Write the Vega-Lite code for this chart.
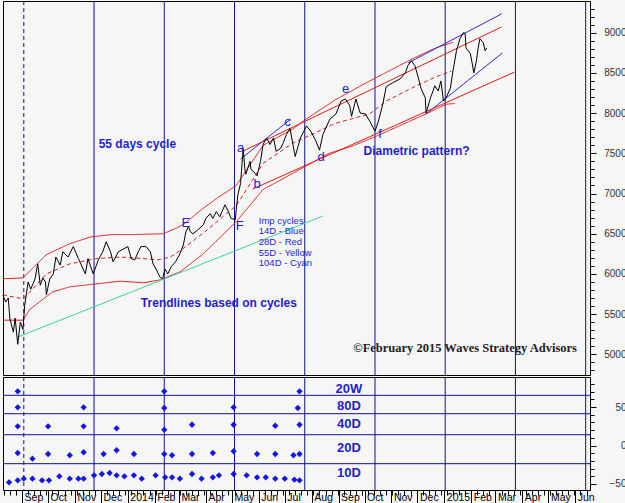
{
  "$schema": "https://vega.github.io/schema/vega-lite/v6.json",
  "background": "#f6f6f6",
  "padding": 0,
  "spacing": 0,
  "config": {
    "view": {"stroke": "#000000", "strokeWidth": 1},
    "axis": {"grid": false, "labelFont": "Liberation Sans", "tickColor": "#000000"},
    "text": {"font": "Liberation Sans"}
  },
  "datasets": {
    "cycleLines": [
      {"date": "2013-11-23"}, {"date": "2014-02-12"}, {"date": "2014-05-04"}, {"date": "2014-07-24"},
      {"date": "2014-10-13"}, {"date": "2015-01-02"}, {"date": "2015-03-24"}, {"date": "2015-06-13"}
    ],
    "dashedLine": [{"date": "2013-09-03"}],
    "price": [
      {"date":"2013-08-10","value":5740},{"date":"2013-08-13","value":5650},{"date":"2013-08-16","value":5700},{"date":"2013-08-18","value":5440},
      {"date":"2013-08-22","value":5275},{"date":"2013-08-24","value":5450},{"date":"2013-08-27","value":5125},{"date":"2013-08-30","value":5400},
      {"date":"2013-09-02","value":5310},{"date":"2013-09-04","value":5610},{"date":"2013-09-08","value":5900},{"date":"2013-09-11","value":5810},
      {"date":"2013-09-16","value":5940},{"date":"2013-09-19","value":6125},{"date":"2013-09-22","value":5860},{"date":"2013-09-25","value":5950},
      {"date":"2013-09-28","value":5900},{"date":"2013-09-29","value":5740},{"date":"2013-10-03","value":5940},{"date":"2013-10-07","value":6000},
      {"date":"2013-10-10","value":6210},{"date":"2013-10-15","value":6110},{"date":"2013-10-18","value":6275},{"date":"2013-10-24","value":6210},
      {"date":"2013-10-30","value":6340},{"date":"2013-11-05","value":6190},{"date":"2013-11-13","value":6000},{"date":"2013-11-16","value":6190},
      {"date":"2013-11-22","value":6000},{"date":"2013-11-28","value":6175},{"date":"2013-12-03","value":6275},{"date":"2013-12-07","value":6400},
      {"date":"2013-12-12","value":6275},{"date":"2013-12-15","value":6150},{"date":"2013-12-21","value":6275},{"date":"2013-12-27","value":6310},
      {"date":"2014-01-01","value":6340},{"date":"2014-01-05","value":6190},{"date":"2014-01-09","value":6175},{"date":"2014-01-13","value":6275},
      {"date":"2014-01-16","value":6340},{"date":"2014-01-22","value":6340},{"date":"2014-01-27","value":6275},{"date":"2014-01-30","value":6125},
      {"date":"2014-02-03","value":6050},{"date":"2014-02-07","value":5960},{"date":"2014-02-10","value":5940},{"date":"2014-02-13","value":6060},
      {"date":"2014-02-16","value":6000},{"date":"2014-02-20","value":6090},{"date":"2014-02-25","value":6150},{"date":"2014-03-02","value":6250},
      {"date":"2014-03-06","value":6360},{"date":"2014-03-09","value":6525},{"date":"2014-03-12","value":6590},{"date":"2014-03-14","value":6525},
      {"date":"2014-03-17","value":6500},{"date":"2014-03-23","value":6550},{"date":"2014-03-29","value":6610},{"date":"2014-04-01","value":6690},
      {"date":"2014-04-06","value":6750},{"date":"2014-04-09","value":6690},{"date":"2014-04-13","value":6775},{"date":"2014-04-17","value":6710},
      {"date":"2014-04-23","value":6860},{"date":"2014-04-27","value":6775},{"date":"2014-04-30","value":6690},{"date":"2014-05-05","value":6675},
      {"date":"2014-05-06","value":6800},{"date":"2014-05-08","value":6990},{"date":"2014-05-11","value":7125},{"date":"2014-05-12","value":7275},
      {"date":"2014-05-14","value":7560},{"date":"2014-05-16","value":7300},{"date":"2014-05-17","value":7240},{"date":"2014-05-22","value":7400},
      {"date":"2014-05-23","value":7300},{"date":"2014-05-28","value":7250},{"date":"2014-05-30","value":7220},{"date":"2014-06-03","value":7400},
      {"date":"2014-06-06","value":7610},{"date":"2014-06-10","value":7690},{"date":"2014-06-14","value":7610},{"date":"2014-06-18","value":7690},
      {"date":"2014-06-21","value":7525},{"date":"2014-06-26","value":7560},{"date":"2014-06-29","value":7625},{"date":"2014-07-03","value":7735},
      {"date":"2014-07-07","value":7810},{"date":"2014-07-13","value":7460},{"date":"2014-07-19","value":7690},{"date":"2014-07-26","value":7840},
      {"date":"2014-07-31","value":7775},{"date":"2014-08-06","value":7650},{"date":"2014-08-10","value":7540},{"date":"2014-08-14","value":7735},
      {"date":"2014-08-22","value":7925},{"date":"2014-08-29","value":7990},{"date":"2014-09-04","value":8150},{"date":"2014-09-09","value":8175},
      {"date":"2014-09-14","value":8090},{"date":"2014-09-16","value":7960},{"date":"2014-09-21","value":8175},{"date":"2014-09-26","value":8000},
      {"date":"2014-10-02","value":7990},{"date":"2014-10-07","value":7900},{"date":"2014-10-13","value":7775},{"date":"2014-10-17","value":7900},
      {"date":"2014-10-22","value":8110},{"date":"2014-10-26","value":8330},{"date":"2014-11-03","value":8380},{"date":"2014-11-11","value":8425},
      {"date":"2014-11-17","value":8500},{"date":"2014-11-20","value":8590},{"date":"2014-11-24","value":8650},{"date":"2014-11-28","value":8590},
      {"date":"2014-12-02","value":8440},{"date":"2014-12-05","value":8310},{"date":"2014-12-10","value":8190},{"date":"2014-12-11","value":8000},
      {"date":"2014-12-16","value":8190},{"date":"2014-12-19","value":8275},{"date":"2014-12-21","value":8340},{"date":"2014-12-25","value":8275},
      {"date":"2014-12-28","value":8400},{"date":"2014-12-31","value":8150},{"date":"2015-01-03","value":8190},{"date":"2015-01-08","value":8310},
      {"date":"2015-01-11","value":8525},{"date":"2015-01-15","value":8775},{"date":"2015-01-19","value":8925},{"date":"2015-01-23","value":9000},
      {"date":"2015-01-25","value":8990},{"date":"2015-01-26","value":8810},{"date":"2015-01-31","value":8740},{"date":"2015-02-02","value":8625},
      {"date":"2015-02-04","value":8500},{"date":"2015-02-07","value":8650},{"date":"2015-02-09","value":8810},{"date":"2015-02-11","value":8925},
      {"date":"2015-02-15","value":8875},{"date":"2015-02-17","value":8775},{"date":"2015-02-19","value":8810}
    ],
    "bands": [
      {"band":"upper","date":"2013-08-10","value":5940},{"band":"upper","date":"2013-09-02","value":5950},{"band":"upper","date":"2013-09-14","value":6080},
      {"band":"upper","date":"2013-09-29","value":6240},{"band":"upper","date":"2013-10-26","value":6375},{"band":"upper","date":"2013-11-19","value":6460},
      {"band":"upper","date":"2013-12-14","value":6490},{"band":"upper","date":"2014-01-10","value":6490},{"band":"upper","date":"2014-02-11","value":6500},
      {"band":"upper","date":"2014-02-28","value":6580},{"band":"upper","date":"2014-03-09","value":6640},{"band":"upper","date":"2014-03-28","value":6810},
      {"band":"upper","date":"2014-04-15","value":6950},{"band":"upper","date":"2014-05-06","value":7100},{"band":"upper","date":"2014-06-06","value":7600},
      {"band":"upper","date":"2014-07-10","value":7800},{"band":"upper","date":"2014-07-22","value":7900},{"band":"upper","date":"2014-08-29","value":8170},
      {"band":"upper","date":"2014-10-07","value":8400},{"band":"upper","date":"2014-11-03","value":8550},{"band":"upper","date":"2014-11-26","value":8680},
      {"band":"upper","date":"2014-12-22","value":8810},{"band":"upper","date":"2015-01-11","value":8880},
      {"band":"middle","date":"2013-08-10","value":5740},{"band":"middle","date":"2013-09-02","value":5690},{"band":"middle","date":"2013-09-10","value":5775},
      {"band":"middle","date":"2013-09-29","value":6000},{"band":"middle","date":"2013-10-26","value":6125},{"band":"middle","date":"2013-11-25","value":6190},
      {"band":"middle","date":"2013-12-23","value":6210},{"band":"middle","date":"2014-01-19","value":6190},{"band":"middle","date":"2014-02-05","value":6175},
      {"band":"middle","date":"2014-02-19","value":6210},{"band":"middle","date":"2014-03-05","value":6310},{"band":"middle","date":"2014-03-28","value":6500},
      {"band":"middle","date":"2014-05-06","value":6850},{"band":"middle","date":"2014-06-06","value":7375},{"band":"middle","date":"2014-07-10","value":7625},
      {"band":"middle","date":"2014-08-29","value":7875},{"band":"middle","date":"2014-10-07","value":7990},{"band":"middle","date":"2014-10-26","value":8150},
      {"band":"middle","date":"2014-11-26","value":8320},{"band":"middle","date":"2014-12-22","value":8450},{"band":"middle","date":"2015-01-09","value":8520},
      {"band":"lower","date":"2013-08-10","value":5425},{"band":"lower","date":"2013-09-02","value":5425},{"band":"lower","date":"2013-09-10","value":5560},
      {"band":"lower","date":"2013-10-06","value":5775},{"band":"lower","date":"2013-10-26","value":5840},{"band":"lower","date":"2013-11-25","value":5875},
      {"band":"lower","date":"2013-12-23","value":5910},{"band":"lower","date":"2014-01-19","value":5890},{"band":"lower","date":"2014-02-07","value":5925},
      {"band":"lower","date":"2014-03-02","value":6025},{"band":"lower","date":"2014-03-28","value":6240},{"band":"lower","date":"2014-05-06","value":6650},
      {"band":"lower","date":"2014-06-06","value":7050},{"band":"lower","date":"2014-07-10","value":7250},{"band":"lower","date":"2014-08-21","value":7500},
      {"band":"lower","date":"2014-09-17","value":7590},{"band":"lower","date":"2014-10-14","value":7710},{"band":"lower","date":"2014-11-14","value":7860},
      {"band":"lower","date":"2014-12-11","value":7990},{"band":"lower","date":"2015-01-03","value":8110},{"band":"lower","date":"2015-01-13","value":8120}
    ],
    "trendlines": [
      {"line":"t1","cycle":"104D","date":"2013-08-27","value":5215},{"line":"t1","cycle":"104D","date":"2014-08-14","value":6720},
      {"line":"t2","cycle":"14D","date":"2014-05-11","value":7429},{"line":"t2","cycle":"14D","date":"2014-07-08","value":7927},
      {"line":"t3","cycle":"14D","date":"2014-11-20","value":8623},{"line":"t3","cycle":"14D","date":"2015-03-08","value":9233},
      {"line":"t4","cycle":"14D","date":"2014-12-11","value":7989},{"line":"t4","cycle":"14D","date":"2015-03-09","value":8748},
      {"line":"t5","cycle":"28D","date":"2014-05-25","value":7056},{"line":"t5","cycle":"28D","date":"2015-03-23","value":8511},
      {"line":"t6","cycle":"28D","date":"2014-05-14","value":7529},{"line":"t6","cycle":"28D","date":"2015-03-08","value":9071}
    ],
    "waveLabels": [
      {"date":"2014-05-11","value":7566,"text":"a"},{"date":"2014-05-30","value":7118,"text":"b"},
      {"date":"2014-07-04","value":7889,"text":"c"},{"date":"2014-08-12","value":7454,"text":"d"},
      {"date":"2014-09-09","value":8300,"text":"e"},{"date":"2014-10-19","value":7740,"text":"f"},
      {"date":"2014-03-09","value":6633,"text":"E"},{"date":"2014-05-10","value":6596,"text":"F"}
    ],
    "notes": [
      {"date":"2014-01-12","value":7616,"text":"55 days cycle"},
      {"date":"2014-04-16","value":5638,"text":"Trendlines based on cycles"},
      {"date":"2014-11-30","value":7529,"text":"Diametric pattern?"}
    ],
    "legendNotes": [
      {"date":"2014-06-01","value":6658,"text":"Imp cycles"},
      {"date":"2014-06-01","value":6533,"text":"14D - Blue"},
      {"date":"2014-06-01","value":6397,"text":"28D - Red"},
      {"date":"2014-06-01","value":6260,"text":"55D - Yellow"},
      {"date":"2014-06-01","value":6136,"text":"104D - Cyan"}
    ],
    "copyright": [{"date":"2015-01-25","value":5078,"text":"©February 2015 Waves Strategy Advisors"}],
    "cycleRows": [{"value":65.2},{"value":41.3},{"value":14},{"value":-23.6}],
    "cycleRowLabels": [
      {"date":"2014-09-13","value":74,"text":"20W"},{"date":"2014-09-13","value":51.3,"text":"80D"},
      {"date":"2014-09-13","value":27.9,"text":"40D"},{"date":"2014-09-13","value":-3.2,"text":"20D"},
      {"date":"2014-09-13","value":-35.7,"text":"10D"}
    ],
    "cycleLows": [
      {"cycle":"20W","date":"2013-08-27","value":70.4},{"cycle":"20W","date":"2014-02-12","value":70.4},{"cycle":"20W","date":"2014-07-18","value":70.4},
      {"cycle":"80D","date":"2013-08-27","value":49.6},{"cycle":"80D","date":"2013-11-11","value":49.6},{"cycle":"80D","date":"2014-02-12","value":48.7},
      {"cycle":"80D","date":"2014-05-03","value":49.6},{"cycle":"80D","date":"2014-07-16","value":48.7},
      {"cycle":"40D","date":"2013-08-27","value":24.9},{"cycle":"40D","date":"2013-10-01","value":24.9},{"cycle":"40D","date":"2013-11-11","value":24.9},
      {"cycle":"40D","date":"2013-12-19","value":22.3},{"cycle":"40D","date":"2014-02-12","value":20.5},{"cycle":"40D","date":"2014-03-16","value":27.0},
      {"cycle":"40D","date":"2014-05-03","value":27.0},{"cycle":"40D","date":"2014-06-20","value":25.7},{"cycle":"40D","date":"2014-07-18","value":27.0},
      {"cycle":"20D","date":"2013-08-27","value":-9.7},{"cycle":"20D","date":"2013-09-13","value":-17.1},{"cycle":"20D","date":"2013-10-01","value":-11.0},
      {"cycle":"20D","date":"2013-10-26","value":-12.7},{"cycle":"20D","date":"2013-11-11","value":-8.8},{"cycle":"20D","date":"2013-12-04","value":-11.0},
      {"cycle":"20D","date":"2013-12-19","value":-6.2},{"cycle":"20D","date":"2014-01-08","value":-11.0},{"cycle":"20D","date":"2014-02-12","value":-11.0},
      {"cycle":"20D","date":"2014-02-21","value":-12.7},{"cycle":"20D","date":"2014-03-16","value":-11.0},{"cycle":"20D","date":"2014-04-09","value":-9.7},
      {"cycle":"20D","date":"2014-05-03","value":-7.5},{"cycle":"20D","date":"2014-05-30","value":-11.0},{"cycle":"20D","date":"2014-06-20","value":-11.0},
      {"cycle":"20D","date":"2014-07-11","value":-12.7},{"cycle":"20D","date":"2014-07-18","value":-11.0},
      {"cycle":"10D","date":"2013-08-17","value":-47.8},{"cycle":"10D","date":"2013-08-27","value":-45.2},{"cycle":"10D","date":"2013-09-03","value":-43.1},
      {"cycle":"10D","date":"2013-09-13","value":-43.1},{"cycle":"10D","date":"2013-09-24","value":-45.2},{"cycle":"10D","date":"2013-10-02","value":-45.2},
      {"cycle":"10D","date":"2013-10-14","value":-40.0},{"cycle":"10D","date":"2013-10-26","value":-43.1},{"cycle":"10D","date":"2013-11-05","value":-43.1},
      {"cycle":"10D","date":"2013-11-11","value":-43.1},{"cycle":"10D","date":"2013-11-23","value":-38.7},{"cycle":"10D","date":"2013-12-02","value":-37.0},
      {"cycle":"10D","date":"2013-12-11","value":-35.7},{"cycle":"10D","date":"2013-12-19","value":-38.7},{"cycle":"10D","date":"2013-12-28","value":-40.0},
      {"cycle":"10D","date":"2014-01-08","value":-38.7},{"cycle":"10D","date":"2014-01-17","value":-43.1},{"cycle":"10D","date":"2014-02-02","value":-38.7},
      {"cycle":"10D","date":"2014-02-13","value":-41.3},{"cycle":"10D","date":"2014-02-21","value":-41.3},{"cycle":"10D","date":"2014-03-02","value":-43.1},
      {"cycle":"10D","date":"2014-03-16","value":-37.0},{"cycle":"10D","date":"2014-03-27","value":-43.1},{"cycle":"10D","date":"2014-04-09","value":-41.3},
      {"cycle":"10D","date":"2014-04-16","value":-38.7},{"cycle":"10D","date":"2014-05-03","value":-37.0},{"cycle":"10D","date":"2014-05-18","value":-38.7},
      {"cycle":"10D","date":"2014-05-30","value":-41.3},{"cycle":"10D","date":"2014-06-09","value":-41.3},{"cycle":"10D","date":"2014-06-20","value":-43.1},
      {"cycle":"10D","date":"2014-07-01","value":-43.1},{"cycle":"10D","date":"2014-07-12","value":-44.4},{"cycle":"10D","date":"2014-07-18","value":-45.2}
    ]
  },
  "vconcat": [
    {
      "width": 587,
      "height": 374,
      "encoding": {
        "x": {"field": "date", "type": "temporal",
              "scale": {"domain": [{"year": 2013, "month": 8, "date": 10, "utc": true}, {"year": 2015, "month": 6, "date": 18, "utc": true}]},
              "axis": null}
      },
      "layer": [
        {"data": {"name": "cycleLines"}, "mark": {"type": "rule", "color": "#10109a", "strokeWidth": 1}},
        {"data": {"name": "dashedLine"}, "mark": {"type": "rule", "color": "#10109a", "strokeWidth": 1, "strokeDash": [4, 3]}},
        {
          "data": {"name": "bands"},
          "mark": {"type": "line", "color": "#e01818", "strokeWidth": 1},
          "encoding": {
            "y": {"field": "value", "type": "quantitative", "scale": {"domain": [4743, 9394], "nice": false, "zero": false},
                  "axis": {"orient": "right", "values": [4800,4900,5000,5100,5200,5300,5400,5500,5600,5700,5800,5900,6000,6100,6200,6300,6400,6500,6600,6700,6800,6900,7000,7100,7200,7300,7400,7500,7600,7700,7800,7900,8000,8100,8200,8300,8400,8500,8600,8700,8800,8900,9000,9100,9200,9300],
                           "tickSize": 4, "labels": false, "domain": false, "title": null}},
            "detail": {"field": "band"},
            "strokeDash": {"field": "band", "type": "nominal", "scale": {"domain": ["upper", "middle", "lower"], "range": [[1, 0], [4, 3], [1, 0]]}, "legend": null}
          }
        },
        {
          "data": {"name": "trendlines"},
          "mark": {"type": "line", "strokeWidth": 1},
          "encoding": {
            "y": {"field": "value", "type": "quantitative", "scale": {"domain": [4743, 9394], "nice": false, "zero": false}, "axis": null},
            "detail": {"field": "line"},
            "color": {"field": "cycle", "type": "nominal", "scale": {"domain": ["14D", "28D", "104D"], "range": ["#2a2ad8", "#e01818", "#3fd0a0"]}, "legend": null}
          }
        },
        {
          "data": {"name": "price"},
          "mark": {"type": "line", "color": "#000000", "strokeWidth": 1},
          "encoding": {
            "y": {"field": "value", "type": "quantitative", "scale": {"domain": [4743, 9394], "nice": false, "zero": false},
                  "axis": {"orient": "right", "values": [5000, 5500, 6000, 6500, 7000, 7500, 8000, 8500, 9000], "format": "d",
                           "tickSize": 6, "labelPadding": 30, "labelAlign": "right", "labelBaseline": "middle",
                           "labelFontSize": 10, "labelColor": "#333333", "domain": false, "title": null}}
          }
        },
        {
          "data": {"name": "waveLabels"},
          "mark": {"type": "text", "fontSize": 13, "color": "#1f1fcf", "align": "center", "baseline": "middle"},
          "encoding": {
            "y": {"field": "value", "type": "quantitative", "scale": {"domain": [4743, 9394], "nice": false, "zero": false}, "axis": null},
            "text": {"field": "text"}
          }
        },
        {
          "data": {"name": "notes"},
          "mark": {"type": "text", "fontSize": 12, "fontWeight": "bold", "color": "#1f1fcf", "align": "center", "baseline": "middle"},
          "encoding": {
            "y": {"field": "value", "type": "quantitative", "scale": {"domain": [4743, 9394], "nice": false, "zero": false}, "axis": null},
            "text": {"field": "text"}
          }
        },
        {
          "data": {"name": "legendNotes"},
          "mark": {"type": "text", "fontSize": 9.5, "color": "#1f1fcf", "align": "left", "baseline": "middle"},
          "encoding": {
            "y": {"field": "value", "type": "quantitative", "scale": {"domain": [4743, 9394], "nice": false, "zero": false}, "axis": null},
            "text": {"field": "text"}
          }
        },
        {
          "data": {"name": "copyright"},
          "mark": {"type": "text", "font": "Liberation Serif", "fontSize": 12.5, "fontWeight": "bold", "color": "#222222", "align": "center", "baseline": "middle"},
          "encoding": {
            "y": {"field": "value", "type": "quantitative", "scale": {"domain": [4743, 9394], "nice": false, "zero": false}, "axis": null},
            "text": {"field": "text"}
          }
        }
      ],
      "resolve": {"axis": {"y": "independent"}}
    },
    {
      "width": 587,
      "height": 113,
      "encoding": {
        "x": {"field": "date", "type": "temporal",
              "scale": {"domain": [{"year": 2013, "month": 8, "date": 10, "utc": true}, {"year": 2015, "month": 6, "date": 18, "utc": true}]},
              "axis": null}
      },
      "layer": [
        {"data": {"name": "cycleLines"}, "mark": {"type": "rule", "color": "#10109a", "strokeWidth": 1}},
        {"data": {"name": "dashedLine"}, "mark": {"type": "rule", "color": "#10109a", "strokeWidth": 1, "strokeDash": [4, 3]}},
        {
          "data": {"name": "cycleRows"},
          "mark": {"type": "rule", "color": "#10109a", "strokeWidth": 1},
          "encoding": {
            "x": null,
            "y": {"field": "value", "type": "quantitative", "scale": {"domain": [-57.8, 89], "nice": false, "zero": false},
                  "axis": {"orient": "right", "values": [-50,-40,-30,-20,-10,0,10,20,30,40,50,60,70,80], "tickSize": 4, "labels": false, "domain": false, "title": null}}
          }
        },
        {
          "data": {"name": "cycleLows"},
          "mark": {"type": "point", "shape": "diamond", "filled": true, "size": 40, "color": "#1515e8", "opacity": 1},
          "encoding": {
            "x": {"field": "date", "type": "temporal",
                  "scale": {"domain": [{"year": 2013, "month": 8, "date": 10, "utc": true}, {"year": 2015, "month": 6, "date": 18, "utc": true}]},
                  "axis": {"orient": "bottom", "tickCount": {"interval": "month", "step": 1}, "tickSize": 16, "labelPadding": -14,
                           "labelAlign": "left", "labelOffset": 2, "labelBaseline": "top", "labelFontSize": 10.5,
                           "labelFont": "'Liberation Sans Narrow', 'Liberation Sans', Arial, sans-serif",
                           "labelColor": "#000000", "labelOverlap": false, "labelFlush": false, "domain": false, "title": null,
                           "labelExpr": "month(datum.value) == 0 ? timeFormat(datum.value, '%Y') : timeFormat(datum.value, '%b')"}},
            "y": {"field": "value", "type": "quantitative", "scale": {"domain": [-57.8, 89], "nice": false, "zero": false},
                  "axis": {"orient": "right", "values": [-50, 0, 50], "tickSize": 6, "labelPadding": 30, "labelAlign": "right",
                           "labelBaseline": "middle", "labelFontSize": 10, "labelColor": "#333333", "domain": false, "title": null}}
          }
        },
        {
          "data": {"name": "cycleRowLabels"},
          "mark": {"type": "text", "fontSize": 13, "fontWeight": "bold", "color": "#1f1fcf", "align": "center", "baseline": "middle"},
          "encoding": {
            "x": {"field": "date", "type": "temporal",
                  "scale": {"domain": [{"year": 2013, "month": 8, "date": 10, "utc": true}, {"year": 2015, "month": 6, "date": 18, "utc": true}]},
                  "axis": {"orient": "bottom", "tickCount": {"interval": "week", "step": 1}, "tickSize": 5, "labels": false, "domain": false, "title": null}},
            "y": {"field": "value", "type": "quantitative", "scale": {"domain": [-57.8, 89], "nice": false, "zero": false}, "axis": null},
            "text": {"field": "text"}
          }
        }
      ],
      "resolve": {"axis": {"x": "independent", "y": "independent"}}
    }
  ]
}
